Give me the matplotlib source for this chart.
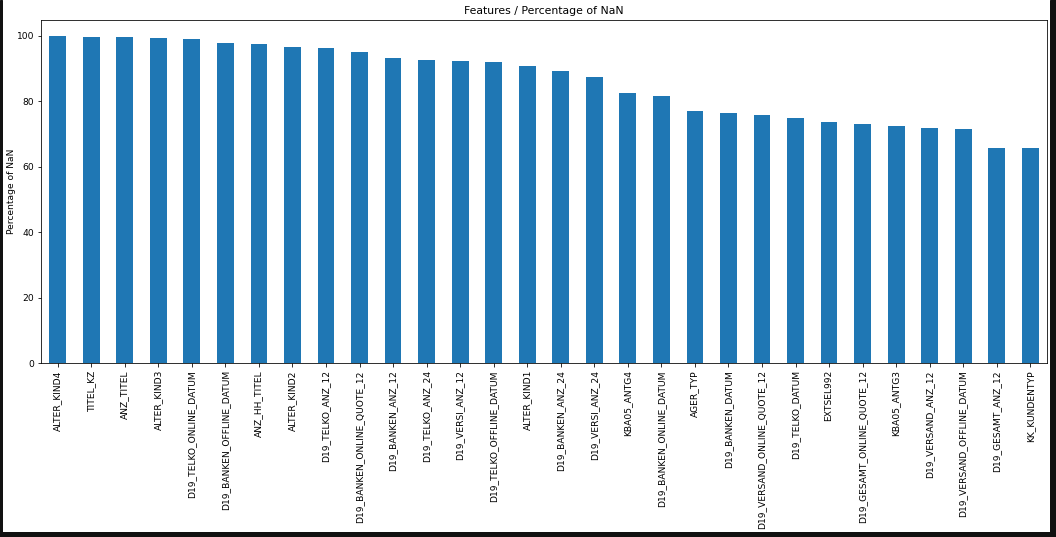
import matplotlib
matplotlib.use('Agg')
import matplotlib.pyplot as plt
import pandas as pd
from matplotlib.patches import Rectangle

features = ['ALTER_KIND4', 'TITEL_KZ', 'ANZ_TITEL', 'ALTER_KIND3',
            'D19_TELKO_ONLINE_DATUM', 'D19_BANKEN_OFFLINE_DATUM', 'ANZ_HH_TITEL',
            'ALTER_KIND2', 'D19_TELKO_ANZ_12', 'D19_BANKEN_ONLINE_QUOTE_12',
            'D19_BANKEN_ANZ_12', 'D19_TELKO_ANZ_24', 'D19_VERSI_ANZ_12',
            'D19_TELKO_OFFLINE_DATUM', 'ALTER_KIND1', 'D19_BANKEN_ANZ_24',
            'D19_VERSI_ANZ_24', 'KBA05_ANTG4', 'D19_BANKEN_ONLINE_DATUM',
            'AGER_TYP', 'D19_BANKEN_DATUM', 'D19_VERSAND_ONLINE_QUOTE_12',
            'D19_TELKO_DATUM', 'EXTSEL992', 'D19_GESAMT_ONLINE_QUOTE_12',
            'KBA05_ANTG3', 'D19_VERSAND_ANZ_12', 'D19_VERSAND_OFFLINE_DATUM',
            'D19_GESAMT_ANZ_12', 'KK_KUNDENTYP']
nan_pct = [99.9, 99.7, 99.7, 99.3, 99.1, 97.8, 97.5, 96.7, 96.3, 95.1,
           93.3, 92.8, 92.3, 92.0, 90.8, 89.3, 87.4, 82.5, 81.6,
           77.0, 76.4, 75.8, 74.8, 73.6, 73.0, 72.4, 71.8, 71.5,
           65.9, 65.9]

plt.rcParams['font.size'] = 9.1

s = pd.Series(nan_pct, index=features)

fig = plt.figure(figsize=(1056/72, 537/72), dpi=72)
ax = fig.add_axes([0.0388, 0.324, 0.9527, 0.6388])
s.plot(kind='bar', ax=ax, color='#1f77b4')
ax.set_title('Features / Percentage of NaN')
ax.set_ylabel('Percentage of NaN')
ax.yaxis.set_label_coords(-0.025, 0.5)

# dark frame of the notebook screenshot
fig.add_artist(Rectangle((0, 0), 1, 5/537, transform=fig.transFigure, color='#111111', zorder=10))
fig.add_artist(Rectangle((1050/1056, 0), 6/1056, 1, transform=fig.transFigure, color='#111111', zorder=10))
fig.add_artist(Rectangle((0, 0), 1.5/1056, 1, transform=fig.transFigure, color='#111111', zorder=10))

fig.savefig('out.png', dpi=72)
